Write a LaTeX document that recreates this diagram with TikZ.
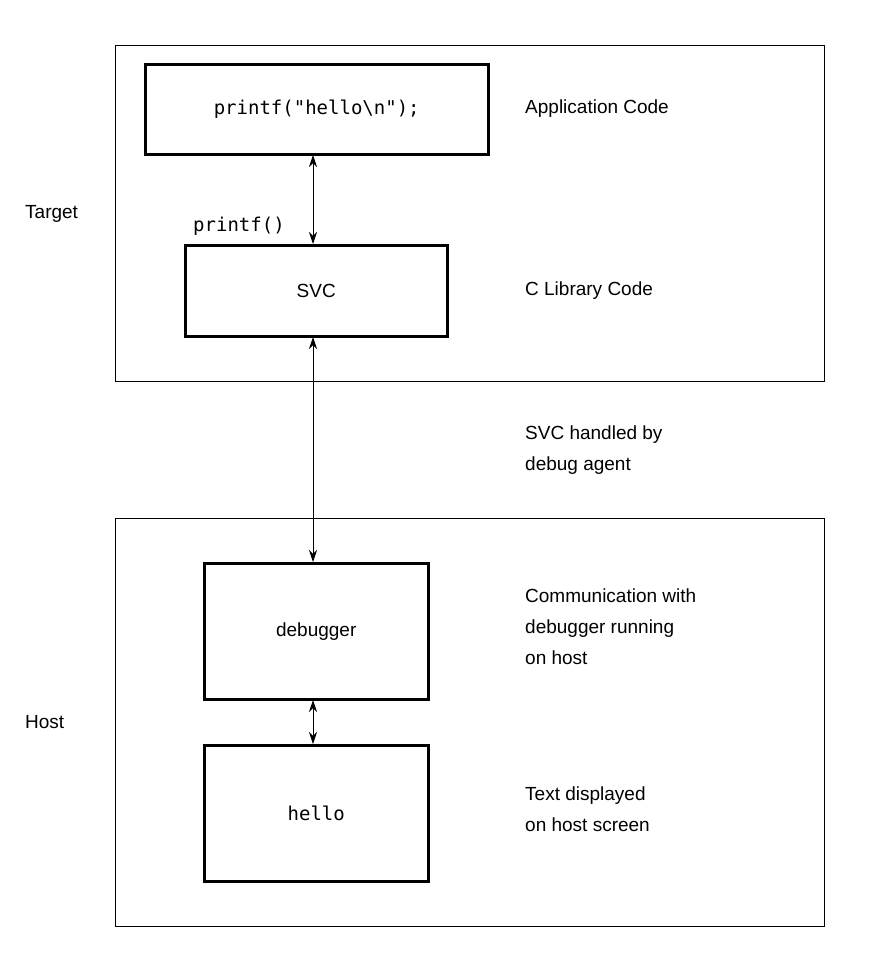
\documentclass[tikz,border=0pt]{standalone}
\usepackage{fontspec}
\setmainfont{Liberation Sans}
\newfontfamily\mono{DejaVu Sans Mono}
\usetikzlibrary{arrows.meta}
\begin{document}
\begin{tikzpicture}[x=1pt,y=-1pt,
  outer/.style={draw,line width=0.8pt},
  box/.style={draw,line width=2.5pt},
  lbl/.style={anchor=west,font=\fontsize{19}{31}\selectfont,align=left,inner sep=0},
  mt/.style={font=\mono\fontsize{19}{23}\selectfont},
  st/.style={font=\fontsize{19}{23}\selectfont},
  arr/.style={{Stealth[length=12pt,width=8pt]}-{Stealth[length=12pt,width=8pt]},line width=0.8pt}]
\useasboundingbox (0,0) rectangle (870,954);
\node[outer,minimum width=709,minimum height=336,anchor=north west] (tgt) at (115,45) {};
\node[outer,minimum width=709,minimum height=408,anchor=north west] (hst) at (115,518) {};
\node[box,minimum width=343,minimum height=90,anchor=north west,mt] (app) at (144,63) {printf("hello\textbackslash n");};
\node[box,minimum width=262,minimum height=91,anchor=north west,st] (svc) at (184,244) {SVC};
\node[box,minimum width=224,minimum height=136,anchor=north west,st] (dbg) at (203,562) {debugger};
\node[box,minimum width=224,minimum height=136,anchor=north west,mt] (hel) at (203,744) {hello};
\coordinate (a1) at (313,155); \coordinate (a2) at (313,244);
\coordinate (b1) at (313,337); \coordinate (b2) at (313,562);
\coordinate (c1) at (313,700); \coordinate (c2) at (313,744);
\draw[arr] (a1) -- (a2);
\draw[arr] (b1) -- (b2);
\draw[arr] (c1) -- (c2);
\node[mt,anchor=west,inner sep=0] (pf) at (193,226) {printf()};
\node[lbl] (l1) at (525,109) {Application Code};
\node[lbl] (l2) at (525,291) {C Library Code};
\node[lbl,anchor=north west] (l3) at (525,426) {SVC handled by\\debug agent};
\node[lbl,anchor=north west] (l4) at (525,589) {Communication with\\debugger running\\on host};
\node[lbl,anchor=north west] (l5) at (525,787) {Text displayed\\on host screen};
\node[lbl] (t) at (25,214) {Target};
\node[lbl] (h) at (25,722) {Host};
\end{tikzpicture}
\end{document}
